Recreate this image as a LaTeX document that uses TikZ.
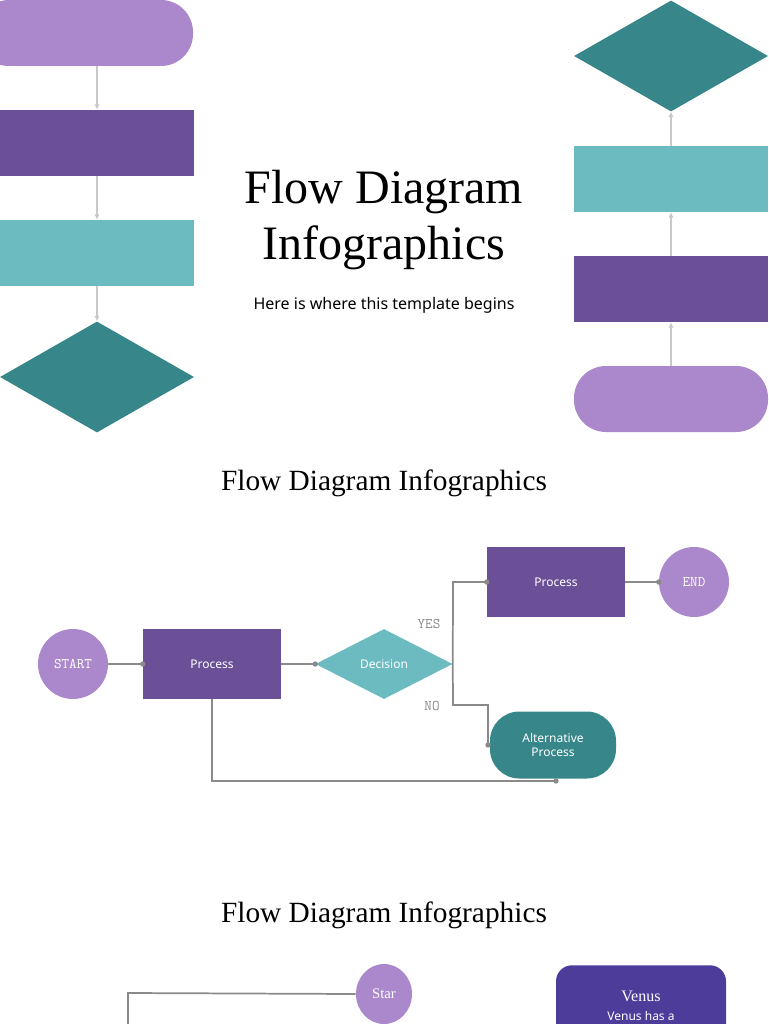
\documentclass[tikz,border=0pt]{standalone}
\usepackage{fontspec}
\setmainfont{Liberation Serif}
\newfontfamily\sansf{Noto Sans}
\usetikzlibrary{shapes.geometric}
\definecolor{lpur}{HTML}{AB88CB}
\definecolor{dpur}{HTML}{6B5098}
\definecolor{lteal}{HTML}{6BBBC1}
\definecolor{dteal}{HTML}{37878A}
\definecolor{venus}{HTML}{4E3C9B}
\definecolor{lgr}{HTML}{C8C8C8}
\definecolor{dgr}{HTML}{8A8A8A}
\tikzset{
  box/.style={rectangle,minimum width=#1*0.75pt,inner sep=0pt},
  pill/.style={rectangle,rounded corners=24pt,fill=lpur,inner sep=0pt},
  conn/.style={draw=dgr,line width=1.3pt},
  arr/.style={draw=lgr,line width=1pt,-{Latex[length=4pt,width=4pt]}},
  dotc/.style={circle,fill=dgr,inner sep=0pt,minimum size=4pt},
  lab/.style={text=white,font=\sansf\fontsize{9}{11}\selectfont,align=center},
  mono/.style={font=\ttfamily\fontsize{11}{12}\selectfont}
}
\usetikzlibrary{arrows.meta}
\begin{document}
\begin{tikzpicture}[x=0.75pt,y=-0.75pt]
\useasboundingbox (0,0) rectangle (768,1024);
% top left column
\node[pill,minimum width=216*0.75pt,minimum height=66*0.75pt] (tl1) at (85,33) {};
\node[rectangle,fill=dpur,minimum width=194*0.75pt,minimum height=66*0.75pt,inner sep=0pt] (tl2) at (97,143) {};
\node[rectangle,fill=lteal,minimum width=194*0.75pt,minimum height=66*0.75pt,inner sep=0pt] (tl3) at (97,253) {};
\node[diamond,fill=dteal,minimum width=194*0.75pt,minimum height=111*0.75pt,inner sep=0pt,aspect=1.75] (tl4) at (97,377) {};
\draw[arr] (97,66) -- (tl2.north);
\draw[arr] (tl2.south) -- (tl3.north);
\draw[arr] (tl3.south) -- (tl4.north);
% top right column
\node[diamond,fill=dteal,minimum width=194*0.75pt,minimum height=111*0.75pt,inner sep=0pt,aspect=1.75] (tr1) at (671,56) {};
\node[rectangle,fill=lteal,minimum width=194*0.75pt,minimum height=66*0.75pt,inner sep=0pt] (tr2) at (671,179) {};
\node[rectangle,fill=dpur,minimum width=194*0.75pt,minimum height=66*0.75pt,inner sep=0pt] (tr3) at (671,289) {};
\node[pill,minimum width=194*0.75pt,minimum height=66*0.75pt] (tr4) at (671,399) {};
\draw[arr] (tr4.north) -- (tr3.south);
\draw[arr] (tr3.north) -- (tr2.south);
\draw[arr] (tr2.north) -- (tr1.south);
% titles
\node[font=\fontsize{36}{40}\selectfont,align=center] (t1) at (384,220) {Flow Diagram\\[2pt]Infographics};
\node[font=\sansf\fontsize{12}{14}\selectfont] (t2) at (384,305) {Here is where this template begins};
\node[font=\fontsize{22}{26}\selectfont] (t3) at (384,483) {Flow Diagram Infographics};
\node[font=\fontsize{22}{26}\selectfont] (t4) at (384,915) {Flow Diagram Infographics};
% flowchart
\node[circle,fill=lpur,minimum size=70*0.75pt,inner sep=0pt,text=white,mono] (start) at (73,664) {START};
\node[rectangle,fill=dpur,minimum width=138*0.75pt,minimum height=70*0.75pt,inner sep=0pt,lab] (p1) at (212,664) {Process};
\node[diamond,fill=lteal,minimum width=137*0.75pt,minimum height=70*0.75pt,inner sep=0pt,aspect=1.96,lab] (dec) at (384,664) {Decision};
\node[rectangle,fill=dpur,minimum width=138*0.75pt,minimum height=70*0.75pt,inner sep=0pt,lab] (p2) at (556,582) {Process};
\node[circle,fill=lpur,minimum size=70*0.75pt,inner sep=0pt,text=white,mono] (end) at (694,582) {END};
\node[rectangle,rounded corners=22pt,fill=dteal,minimum width=126*0.75pt,minimum height=67*0.75pt,inner sep=0pt,lab] (alt) at (553,745) {Alternative\\Process};
\draw[conn] (start) -- (p1.west) node[dotc]{};
\draw[conn] (p1) -- (dec.west) node[dotc]{};
\draw[conn] (dec.east) -- (453,582) -- (p2.west) node[dotc]{};
\draw[conn] (dec.east) -- (453,705) -- (488,705) -- (488,745) node[dotc]{};
\draw[conn] (p2) -- (end.west) node[dotc]{};
\coordinate (ret) at (556,781);
\draw[conn] (p1.south) -- (212,781) -- (ret) node[dotc]{};
\node[mono,text=dgr] (yes) at (429,624) {YES};
\node[mono,text=dgr] (no) at (432,706) {NO};
% bottom
\node[ellipse,fill=lpur,minimum width=56*0.75pt,minimum height=60*0.75pt,inner sep=0pt,text=white,font=\fontsize{11}{12}\selectfont] (star) at (384,994) {Star};
\coordinate (bl) at (128,1024);
\coordinate (bb) at (384,1024);
\draw[conn] (star.west) -- (128,993) -- (bl);
\draw[conn] (star.south) -- (bb);
\node[rectangle,rounded corners=12pt,fill=venus,minimum width=170*0.75pt,minimum height=110*0.75pt,inner sep=0pt,anchor=north] (venus) at (641,965) {};
\node[text=white,font=\fontsize{12}{14}\selectfont] (vt) at (641,996) {Venus};
\node[text=white,font=\sansf\fontsize{9}{11}\selectfont] (vd) at (641,1016) {Venus has a};
\end{tikzpicture}
\end{document}
